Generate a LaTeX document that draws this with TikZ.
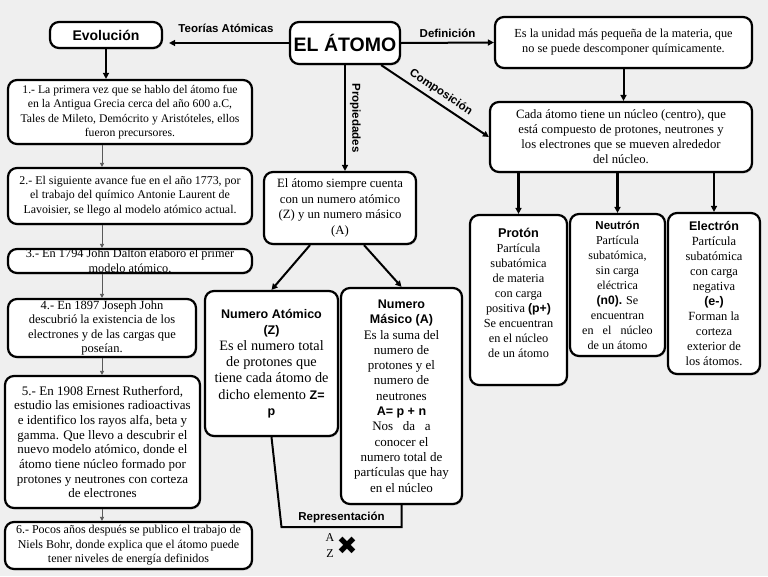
\documentclass[tikz,border=0pt]{standalone}
\usepackage{fontspec}
\setmainfont{Liberation Serif}
\setsansfont{Liberation Sans}
\newfontfamily\simbolo{DejaVu Sans}
\usetikzlibrary{arrows.meta,shadows}
\definecolor{fondo}{RGB}{239,239,239}
\newcommand\negrita[1]{{\sffamily\bfseries #1}}
\newcommand\tam[2]{\fontsize{#1}{#2}\selectfont}

\begin{document}
\begin{tikzpicture}[x=1pt,y=-1pt,
  caja/.style={draw, line width=2.2pt, rounded corners=9pt, fill=white, align=center, inner sep=1pt,
    font=\tam{11.7}{14.4}, drop shadow={opacity=.25,shadow xshift=1pt,shadow yshift=-1.5pt}},
  flecha/.style={-{Triangle[length=6pt,width=6pt]}, line width=2pt},
  fina/.style={-{Triangle[length=4pt,width=4pt]}, line width=.8pt, draw=gray!70!black},
  etiq/.style={font=\sffamily\bfseries\tam{11.5}{13}, inner sep=1pt}]

\fill[fondo] (0,0) rectangle (768,576);
\useasboundingbox (0,0) rectangle (768,576);

\node[caja, minimum width=112pt, minimum height=26pt, font=\sffamily\bfseries\tam{14}{16}] (evo) at (106,35) {Evolución};
\node[caja, minimum width=110pt, minimum height=42pt, font=\sffamily\bfseries\tam{19.5}{22}] (atomo) at (345,43) {EL ÁTOMO};
\node[caja, minimum width=257pt, minimum height=51pt, font=\tam{12.3}{15}] (def) at (623.5,42.5) {Es la unidad más pequeña de la materia, que\\no se puede descomponer químicamente.};
\node[caja, minimum width=262pt, minimum height=70pt, font=\tam{12.7}{15}] (comp) at (621,137) {Cada átomo tiene un núcleo (centro), que\\está compuesto de protones, neutrones y\\los electrones que se mueven alrededor\\del núcleo.};
\node[caja, minimum width=152pt, minimum height=72pt, font=\tam{12.7}{15.5}] (prop) at (340,208) {El átomo siempre cuenta\\con un numero atómico\\(Z) y un numero másico\\(A)};
\node[caja, minimum width=133pt, minimum height=145pt, font=\tam{14.3}{16.2}] (zat) at (271.5,363.5) {\negrita{\tam{12.5}{15}Numero Atómico}\\\negrita{\tam{12.5}{15}(Z)}\\Es el numero total\\de protones que\\tiene cada átomo de\\dicho elemento \negrita{\tam{12.5}{15}Z=}\\\negrita{\tam{12.5}{15}p}};
\node[caja, minimum width=121pt, minimum height=216pt, font=\tam{13}{15.3}] (zma) at (401.5,396) {\negrita{\tam{12.5}{15}Numero}\\\negrita{\tam{12.5}{15}Másico (A)}\\Es la suma del\\numero de\\protones y el\\numero de\\neutrones\\\negrita{\tam{12.5}{15}A= p + n}\\Nos\ \ \ da\ \ \ a\\conocer el\\numero total de\\partículas que hay\\en el núcleo};
\node[caja, minimum width=97pt, minimum height=170pt, font=\tam{12.3}{15}] (pro) at (518.5,300) {\negrita{\tam{12.7}{15}Protón}\\Partícula\\subatómica\\de materia\\con carga\\positiva \negrita{(p+)}\\Se encuentran\\en el núcleo\\de un átomo\\\mbox{}};
\node[caja, minimum width=95pt, minimum height=142pt, font=\tam{12.1}{15}] (neu) at (617.5,285) {\negrita{\tam{11.5}{15}Neutrón}\\Partícula\\subatómica,\\sin carga\\eléctrica\\\negrita{(n0).} Se\\encuentran\\en\ \ \ el\ \ \ núcleo\\de un átomo};
\node[caja, minimum width=92pt, minimum height=161pt, font=\tam{12.5}{15}] (ele) at (714,293.5) {\negrita{\tam{12.5}{15}Electrón}\\Partícula\\subatómica\\con carga\\negativa\\\negrita{(e-)}\\Forman la\\corteza\\exterior de\\los átomos.};

\node[caja, minimum width=244pt, minimum height=64pt] (e1) at (130,112) {1.- La primera vez que se hablo del átomo fue\\en la Antigua Grecia cerca del año 600 a.C,\\Tales de Mileto, Demócrito y Aristóteles, ellos\\fueron precursores.};
\node[caja, minimum width=244pt, minimum height=56pt, font=\tam{11.9}{14.4}] (e2) at (130,196) {2.- El siguiente avance fue en el año 1773, por\\el trabajo del químico Antonie Laurent de\\Lavoisier, se llego al modelo atómico actual.};
\node[caja, minimum width=244pt, minimum height=24pt, inner ysep=-3pt, font=\tam{12.3}{14.4}] (e3) at (130,261) {3.- En 1794 John Dalton elaboro el primer\\modelo atómico.};
\node[caja, minimum width=188pt, minimum height=58pt, font=\tam{12.5}{14.4}] (e4) at (102,328) {4.- En 1897 Joseph John\\descubrió la existencia de los\\electrones y de las cargas que\\poseían.};
\node[caja, minimum width=195pt, minimum height=132pt, font=\tam{13}{14.7}] (e5) at (102.5,442) {5.- En 1908 Ernest Rutherford,\\estudio las emisiones radioactivas\\e identifico los rayos alfa, beta y\\gamma. Que llevo a descubrir el\\nuevo modelo atómico, donde el\\átomo tiene núcleo formado por\\protones y neutrones con corteza\\de electrones};
\node[caja, minimum width=247pt, minimum height=47pt, font=\tam{12}{14.4}] (e6) at (128.5,545.5) {6.- Pocos años después se publico el trabajo de\\Niels Bohr, donde explica que el átomo puede\\tener niveles de energía definidos};

\draw[flecha, shorten >=6pt] (atomo.west) -- (atomo.west -| evo.east) node[midway, above=8pt, etiq] {Teorías Atómicas};
\draw[flecha] (atomo.east) -- (def.west) node[midway, above=3pt, etiq] {Definición};
\draw[flecha] ([xshift=-20pt]atomo.south east) -- (comp.west) node[midway, sloped, above=3pt, etiq] {Composición};
\draw[flecha] (atomo.south) -- (atomo.south |- prop.north) node[midway, rotate=-90, anchor=south, etiq, inner sep=4pt] {Propiedades};
\draw[flecha] (def.south) -- (def.south |- comp.north);
\draw[flecha, line width=2.4pt] (pro.north |- comp.south) -- (pro.north);
\draw[flecha, line width=2.4pt] (neu.north |- comp.south) -- (neu.north);
\draw[flecha, line width=2.4pt] (ele.north |- comp.south) -- (ele.north);
\draw[flecha] ([xshift=-30pt]prop.south) -- (zat.north);
\draw[flecha] ([xshift=24pt]prop.south) -- (zma.north);
\draw[line width=2pt] (zat.south) -- ++(10,90) -| (zma.south) node[pos=.25, above=2pt, etiq] {Representación};

\draw[flecha] (evo.south) -- (evo.south |- e1.north);
\draw[fina] (e1.south -| e4.north) -- (e2.north -| e4.north);
\draw[fina] (e2.south -| e4.north) -- (e3.north -| e4.north);
\draw[fina] (e3.south -| e4.north) -- (e4.north);
\draw[fina] (e4.south) -- (e5.north -| e4.south);
\draw[fina] (e5.south -| e4.south) -- (e6.north -| e4.south);

\node[font=\tam{12}{12}, inner sep=0pt] (ra) at (330,538) {A};
\node[font=\tam{12}{12}, inner sep=0pt] (rz) at (330,554) {Z};
\node[font=\simbolo\tam{25}{25}, inner sep=0pt] (rx) at (347,546) {✖};

\end{tikzpicture}
\end{document}
